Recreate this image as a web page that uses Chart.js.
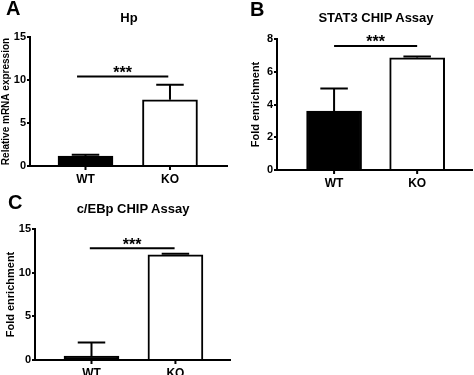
<!DOCTYPE html>
<html><head><meta charset="utf-8">
<script src="https://cdn.jsdelivr.net/npm/chart.js@4"></script>
<style>
html,body{margin:0;padding:0;background:#fff;}
body{width:474px;height:375px;position:relative;overflow:hidden;font-family:Arial,"Liberation Sans",sans-serif;}
.pnl{position:absolute;}
.lbl{position:absolute;font-weight:bold;color:#000;white-space:nowrap;}
</style></head><body>
<div class="pnl" style="left:0;top:0;width:237px;height:190px"><canvas id="cA"></canvas></div>
<div class="pnl" style="left:237px;top:0;width:237px;height:190px"><canvas id="cB"></canvas></div>
<div class="pnl" style="left:0;top:190px;width:237px;height:185px"><canvas id="cC"></canvas></div>
<div class="lbl" style="left:6px;top:-3px;font-size:20px">A</div>
<div class="lbl" style="left:250px;top:-2px;font-size:20px">B</div>
<div class="lbl" style="left:8px;top:191px;font-size:20px">C</div>
<div class="lbl" style="left:129px;top:10px;font-size:13px;transform:translateX(-50%)">Hp</div>
<div class="lbl" style="left:376px;top:10px;font-size:13px;transform:translateX(-50%)">STAT3 CHIP Assay</div>
<div class="lbl" style="left:133px;top:201px;font-size:13px;transform:translateX(-50%)">c/EBp CHIP Assay</div>
<script>
// ---- data ----
const categories = ["WT", "KO"];
const hpValues = [1.15, 7.7];
const hpErrors = [0.15, 1.75];
const hpTicks = [0, 5, 10, 15];
const hpSig = [10.4];
const stat3Values = [3.6, 6.85];
const stat3Errors = [1.38, 0.08];
const stat3Ticks = [0, 2, 4, 6, 8];
const stat3Sig = [7.58];
const cebpValues = [0.45, 12.05];
const cebpErrors = [1.55, 0.12];
const cebpTicks = [0, 5, 10, 15];
const cebpSig = [12.8];
const sigLabel = "***";

const barFill = ["#000000", "#ffffff"];

const annot = {
  id: 'annot',
  afterDatasetsDraw(chart, args, opts) {
    const ctx = chart.ctx, x = chart.scales.x, y = chart.scales.y;
    const meta = chart.getDatasetMeta(0);
    ctx.save();
    ctx.strokeStyle = '#000'; ctx.lineWidth = 2;
    opts.values.forEach((v, i) => {
      const bar = meta.data[i];
      const cx = x.getPixelForValue(i + 1);
      const top = y.getPixelForValue(v);
      const end = y.getPixelForValue(v + opts.errors[i]);
      const half = bar.width / 4;
      ctx.beginPath();
      ctx.moveTo(cx, top); ctx.lineTo(cx, end);
      ctx.moveTo(cx - half, end); ctx.lineTo(cx + half, end);
      ctx.stroke();
    });
    const sy = y.getPixelForValue(opts.sig);
    const x1 = x.getPixelForValue(opts.sigFrom), x2 = x.getPixelForValue(opts.sigTo);
    ctx.beginPath(); ctx.moveTo(x1, sy); ctx.lineTo(x2, sy); ctx.stroke();
    ctx.fillStyle = '#000';
    ctx.font = 'bold 16px Arial, "Liberation Sans", sans-serif';
    ctx.textAlign = 'center'; ctx.textBaseline = 'bottom';
    ctx.fillText(sigLabel, (x1 + x2) / 2, sy + 5);
    ctx.beginPath();
    for (let i = 0; i < categories.length; i++) {
      const cx = x.getPixelForValue(i + 1);
      ctx.moveTo(cx, y.bottom); ctx.lineTo(cx, y.bottom + 4);
    }
    ctx.stroke();
    ctx.restore();
  }
};

function makePanel(id, cfg) {
  const tickVals = cfg.ticks;
  new Chart(document.getElementById(id), {
    type: 'bar',
    data: {
      datasets: [{
        data: cfg.values.map((v, i) => ({ x: i + 1, y: v })),
        backgroundColor: barFill,
        borderColor: '#000',
        borderWidth: 2,
        borderSkipped: 'bottom',
        barThickness: cfg.barW
      }]
    },
    options: {
      responsive: true, maintainAspectRatio: false, animation: false,
      layout: { padding: { left: cfg.padLeft, right: cfg.padRight, top: cfg.padTop, bottom: 0 } },
      plugins: {
        legend: { display: false }, tooltip: { enabled: false },
        annot: { values: cfg.values, errors: cfg.errors, sig: cfg.sig, sigFrom: cfg.sigFrom, sigTo: cfg.sigTo }
      },
      scales: {
        x: {
          type: 'linear', min: cfg.xmin, max: cfg.xmax, offset: false,
          grid: { display: false, drawTicks: false, offset: false },
          border: { color: '#000', width: 2 },
          afterBuildTicks: s => { s.ticks = categories.map((c, i) => ({ value: i + 1 })); },
          ticks: {
            autoSkip: false, maxRotation: 0, padding: 6, color: '#000',
            font: { family: 'Arial, "Liberation Sans", sans-serif', size: 12, weight: 'bold' },
            callback: v => categories[v - 1]
          },
          afterFit: s => { s.height = cfg.xh; }
        },
        y: {
          min: tickVals[0], max: tickVals[tickVals.length - 1],
          afterBuildTicks: s => { s.ticks = tickVals.map(v => ({ value: v })); },
          grid: { display: true, drawOnChartArea: false, drawTicks: true, tickLength: 3, color: '#000', lineWidth: 2 },
          border: { color: '#000', width: 2 },
          ticks: {
            padding: 1, color: '#000',
            font: { family: 'Arial, "Liberation Sans", sans-serif', size: 11, weight: 'bold' }
          },
          title: {
            display: true, text: cfg.ytitle, color: '#000', padding: { top: 0, bottom: 2 },
            font: { family: 'Arial, "Liberation Sans", sans-serif', size: cfg.ytitleSize, weight: 'bold' }
          },
          afterFit: s => { s.width = cfg.yw; }
        }
      }
    },
    plugins: [annot]
  });
}

makePanel('cA', { values: hpValues, errors: hpErrors, ticks: hpTicks, sig: hpSig[0], sigFrom: 0.9, sigTo: 1.98,
  xmin: 0.343, xmax: 2.675, barW: 55, padLeft: 0, padRight: 10, padTop: 37, xh: 24, yw: 30,
  ytitle: 'Relative mRNA expression', ytitleSize: 10 });
makePanel('cB', { values: stat3Values, errors: stat3Errors, ticks: stat3Ticks, sig: stat3Sig[0], sigFrom: 1, sigTo: 2,
  xmin: 0.313, xmax: 2.66, barW: 55, padLeft: 12, padRight: 2, padTop: 39, xh: 20, yw: 28,
  ytitle: 'Fold enrichment', ytitleSize: 11 });
makePanel('cC', { values: cebpValues, errors: cebpErrors, ticks: cebpTicks, sig: cebpSig[0], sigFrom: 0.98, sigTo: 1.99,
  xmin: 0.327, xmax: 2.65, barW: 55, padLeft: 4, padRight: 7, padTop: 39, xh: 15, yw: 31,
  ytitle: 'Fold enrichment', ytitleSize: 11 });
</script>
</body></html>
